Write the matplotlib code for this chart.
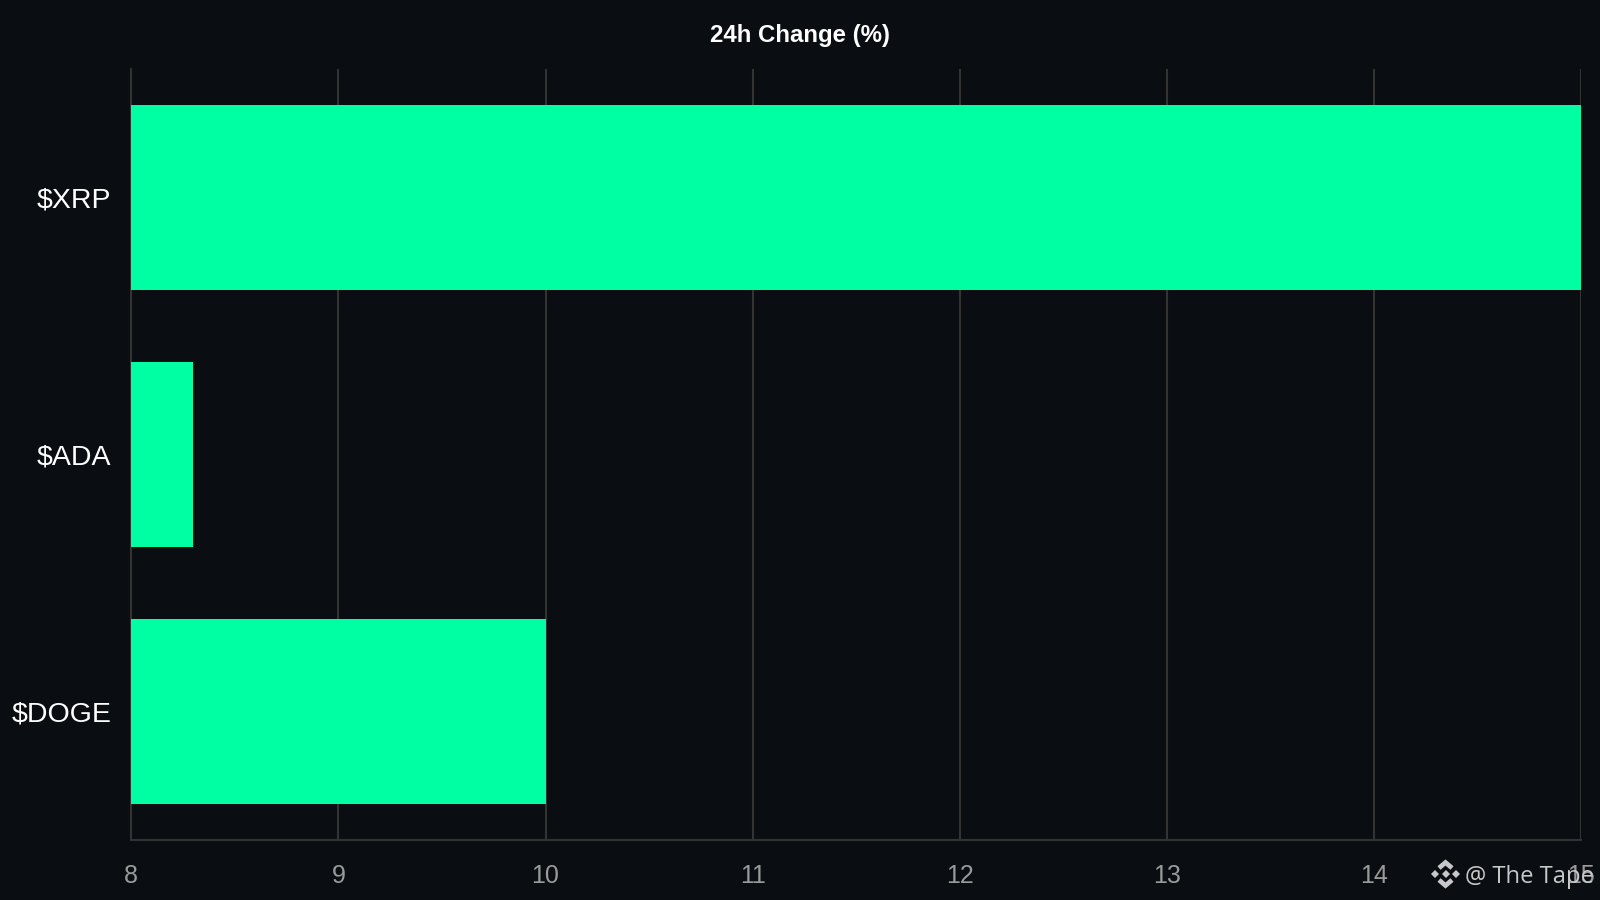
import matplotlib
matplotlib.use("Agg")
import matplotlib.pyplot as plt
from matplotlib.lines import Line2D

# Values, bottom to top on the chart
tokens = ["$DOGE", "$ADA", "$XRP"]
change_24h = [10, 8.3, 15]
x_ticks = [8, 9, 10, 11, 12, 13, 14, 15]

bg_color = "#0a0e12"
bar_color = "#00ffa3"
grid_color = "#333333"

plt.rcParams['font.family'] = ['Liberation Sans', 'DejaVu Sans']

fig = plt.figure(figsize=(16, 9), dpi=100, facecolor=bg_color)
ax = fig.add_axes([131.3 / 1600, 1 - 840 / 900, 1449.7 / 1600, 771 / 900], facecolor=bg_color)

ax.barh(tokens, change_24h, height=0.72, color=bar_color, zorder=3)
ax.set_xlim(8, 15)
ax.set_ylim(-0.5, 2.5)
ax.set_xticks(x_ticks)

ax.grid(axis="x", color=grid_color, linewidth=1.5, zorder=1)
ax.set_axisbelow(True)
for side in ["top", "right"]:
    ax.spines[side].set_visible(False)
for side in ["left", "bottom"]:
    ax.spines[side].set_color(grid_color)
    ax.spines[side].set_linewidth(1.5)

ax.tick_params(axis="x", length=0, pad=17, labelsize=18, labelcolor="#9a9a9a")
ax.tick_params(axis="y", length=0, pad=14.5, labelsize=20.5, labelcolor="white")
for lab in ax.get_yticklabels():
    lab.set_parse_math(False)

fig.text(0.5, 1 - 35.5 / 900, "24h Change (%)", color="white", fontsize=17.3,
         fontweight="bold", ha="center", va="center")

# Watermark: logo made of diamonds and two chevrons, then the name
wm_color = "#c8c8c8"
cx, cy = 1445.5, 874


def logo_x(dx):
    return (cx + dx) / 1600


def logo_y(dy):
    return 1 - (cy + dy) / 900


for dx in [-10.5, 0, 10.5]:
    fig.add_artist(Line2D([logo_x(dx)], [logo_y(0)], marker="D", markersize=3.6,
                          color=wm_color, markeredgewidth=0, transform=fig.transFigure))
for sign in [-1, 1]:
    fig.add_artist(Line2D([logo_x(-6.5), logo_x(0), logo_x(6.5)],
                          [logo_y(sign * 6), logo_y(sign * 11.5), logo_y(sign * 6)],
                          color=wm_color, linewidth=3.4, solid_joinstyle="miter",
                          solid_capstyle="butt", transform=fig.transFigure))
fig.text(1465 / 1600, 1 - 877 / 900, "@ The Tape", color=wm_color, fontsize=17.1,
         family="Open Sans", ha="left", va="center", parse_math=False)

fig.savefig("out.png", dpi=100, facecolor=bg_color)
